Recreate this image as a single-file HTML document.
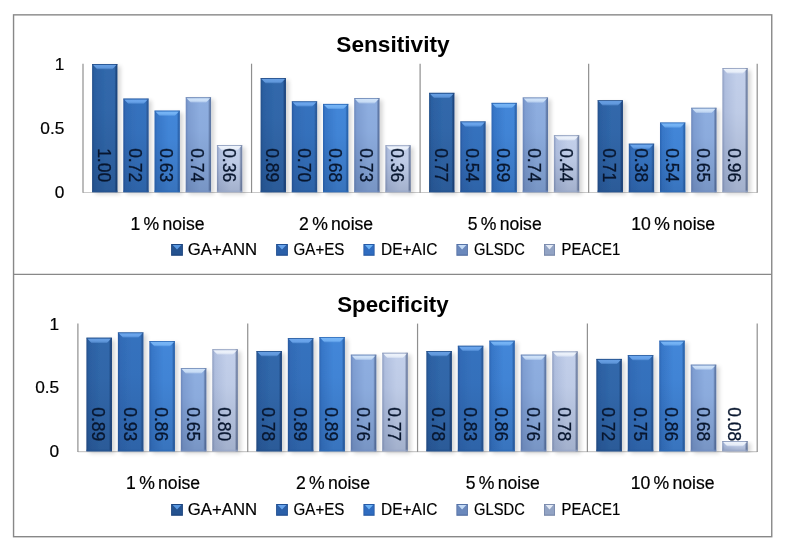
<!DOCTYPE html>
<html lang="en"><head><meta charset="utf-8"><title>Sensitivity and Specificity</title>
<style>html,body{margin:0;padding:0;background:#fff}body{width:785px;height:548px;overflow:hidden}svg{display:block}text{font-family:'Liberation Sans', sans-serif}</style>
</head><body>
<svg width="785" height="548" viewBox="0 0 785 548">
<defs>
<linearGradient id="g0" x1="0" y1="0" x2="1" y2="0"><stop offset="0" stop-color="#244f8a"/><stop offset="0.1" stop-color="#2c60a2"/><stop offset="0.55" stop-color="#3068ab"/><stop offset="0.88" stop-color="#3068ab"/><stop offset="0.95" stop-color="#1f4780"/><stop offset="1" stop-color="#1f4780"/></linearGradient>
<linearGradient id="g1" x1="0" y1="0" x2="1" y2="0"><stop offset="0" stop-color="#2858a0"/><stop offset="0.1" stop-color="#316bb6"/><stop offset="0.55" stop-color="#3672be"/><stop offset="0.88" stop-color="#3672be"/><stop offset="0.95" stop-color="#2a5a9a"/><stop offset="1" stop-color="#2a5a9a"/></linearGradient>
<linearGradient id="g2" x1="0" y1="0" x2="1" y2="0"><stop offset="0" stop-color="#2d66b4"/><stop offset="0.1" stop-color="#3777c8"/><stop offset="0.55" stop-color="#4286d8"/><stop offset="0.88" stop-color="#4286d8"/><stop offset="0.95" stop-color="#2c66b0"/><stop offset="1" stop-color="#2c66b0"/></linearGradient>
<linearGradient id="g3" x1="0" y1="0" x2="1" y2="0"><stop offset="0" stop-color="#6d88bc"/><stop offset="0.1" stop-color="#7f9ed2"/><stop offset="0.55" stop-color="#8eaee0"/><stop offset="0.88" stop-color="#8eaee0"/><stop offset="0.95" stop-color="#607aa8"/><stop offset="1" stop-color="#607aa8"/></linearGradient>
<linearGradient id="g4" x1="0" y1="0" x2="1" y2="0"><stop offset="0" stop-color="#8c9cc0"/><stop offset="0.1" stop-color="#b0bfdf"/><stop offset="0.55" stop-color="#c2cfea"/><stop offset="0.88" stop-color="#c2cfea"/><stop offset="0.95" stop-color="#7888aa"/><stop offset="1" stop-color="#7888aa"/></linearGradient>
<linearGradient id="b0" x1="0" y1="0" x2="0" y2="1"><stop offset="0" stop-color="#6aa2e6" stop-opacity="0.95"/><stop offset="0.6" stop-color="#6aa2e6" stop-opacity="0.85"/><stop offset="1" stop-color="#6aa2e6" stop-opacity="0.35"/></linearGradient>
<linearGradient id="b1" x1="0" y1="0" x2="0" y2="1"><stop offset="0" stop-color="#70aaf0" stop-opacity="0.95"/><stop offset="0.6" stop-color="#70aaf0" stop-opacity="0.85"/><stop offset="1" stop-color="#70aaf0" stop-opacity="0.35"/></linearGradient>
<linearGradient id="b2" x1="0" y1="0" x2="0" y2="1"><stop offset="0" stop-color="#7ab8f8" stop-opacity="0.95"/><stop offset="0.6" stop-color="#7ab8f8" stop-opacity="0.85"/><stop offset="1" stop-color="#7ab8f8" stop-opacity="0.35"/></linearGradient>
<linearGradient id="b3" x1="0" y1="0" x2="0" y2="1"><stop offset="0" stop-color="#d4e6fa" stop-opacity="0.95"/><stop offset="0.6" stop-color="#d4e6fa" stop-opacity="0.85"/><stop offset="1" stop-color="#d4e6fa" stop-opacity="0.35"/></linearGradient>
<linearGradient id="b4" x1="0" y1="0" x2="0" y2="1"><stop offset="0" stop-color="#f0f5fc" stop-opacity="0.95"/><stop offset="0.6" stop-color="#f0f5fc" stop-opacity="0.85"/><stop offset="1" stop-color="#f0f5fc" stop-opacity="0.35"/></linearGradient>
<linearGradient id="vg" x1="0" y1="0" x2="0" y2="1"><stop offset="0" stop-color="#0a1a3a" stop-opacity="0"/><stop offset="0.35" stop-color="#0a1a3a" stop-opacity="0.02"/><stop offset="1" stop-color="#0a1a3a" stop-opacity="0.17"/></linearGradient>
<filter id="sh" x="-30%" y="-10%" width="170%" height="125%"><feGaussianBlur in="SourceAlpha" stdDeviation="1.9"/><feOffset dx="2.5" dy="1.5"/><feComponentTransfer><feFuncA type="linear" slope="0.17"/></feComponentTransfer><feMerge><feMergeNode/><feMergeNode in="SourceGraphic"/></feMerge></filter>
</defs>
<rect width="785" height="548" fill="#fff"/>
<text x="336.3" y="51.7" font-size="22.8" font-weight="bold" fill="#000" textLength="113.30000000000001" lengthAdjust="spacingAndGlyphs">Sensitivity</text>
<text x="64.3" y="69.6" font-size="17.3" text-anchor="end" fill="#000" stroke="#000" stroke-width="0.2">1</text>
<text x="64.3" y="133.7" font-size="17.3" text-anchor="end" fill="#000" stroke="#000" stroke-width="0.2">0.5</text>
<text x="64.3" y="197.8" font-size="17.3" text-anchor="end" fill="#000" stroke="#000" stroke-width="0.2">0</text>
<line x1="83.0" y1="192.5" x2="757.2" y2="192.5" stroke="#c9c9c9" stroke-width="1.2"/>
<g filter="url(#sh)"><rect x="92.10" y="64.00" width="25.36" height="128.20" fill="url(#g0)"/></g>
<rect x="92.10" y="64.00" width="25.36" height="128.20" fill="url(#vg)"/>
<path d="M93.00 64.80H116.56L112.46 69.20H97.10Z" fill="url(#b0)"/>
<rect x="92.10" y="190.60" width="25.36" height="1.6" fill="#25528e" opacity="0.7"/>
<rect x="92.10" y="64.00" width="25.36" height="0.7" fill="#1f4780" opacity="0.8"/>
<text transform="translate(97.88 182.20) rotate(90)" font-size="17.5" text-anchor="end" fill="#08162e" stroke="#08162e" stroke-width="0.3">1.00</text>
<g filter="url(#sh)"><rect x="123.30" y="98.60" width="25.36" height="93.60" fill="url(#g1)"/></g>
<rect x="123.30" y="98.60" width="25.36" height="93.60" fill="url(#vg)"/>
<path d="M124.20 99.40H147.77L143.67 103.80H128.30Z" fill="url(#b1)"/>
<rect x="123.30" y="190.60" width="25.36" height="1.6" fill="#2a5ca0" opacity="0.7"/>
<rect x="123.30" y="98.60" width="25.36" height="0.7" fill="#2a5a9a" opacity="0.8"/>
<text transform="translate(129.08 182.20) rotate(90)" font-size="17.5" text-anchor="end" fill="#08162e" stroke="#08162e" stroke-width="0.3">0.72</text>
<g filter="url(#sh)"><rect x="154.51" y="110.63" width="25.36" height="81.57" fill="url(#g2)"/></g>
<rect x="154.51" y="110.63" width="25.36" height="81.57" fill="url(#vg)"/>
<path d="M155.41 111.43H178.97L174.87 115.83H159.51Z" fill="url(#b2)"/>
<rect x="154.51" y="190.60" width="25.36" height="1.6" fill="#2f6cb8" opacity="0.7"/>
<rect x="154.51" y="110.63" width="25.36" height="0.7" fill="#2c66b0" opacity="0.8"/>
<text transform="translate(160.29 182.20) rotate(90)" font-size="17.5" text-anchor="end" fill="#08162e" stroke="#08162e" stroke-width="0.3">0.63</text>
<g filter="url(#sh)"><rect x="185.71" y="97.33" width="25.36" height="94.87" fill="url(#g3)"/></g>
<rect x="185.71" y="97.33" width="25.36" height="94.87" fill="url(#vg)"/>
<path d="M186.61 98.13H210.17L206.07 102.53H190.71Z" fill="url(#b3)"/>
<rect x="185.71" y="190.60" width="25.36" height="1.6" fill="#7590c2" opacity="0.7"/>
<rect x="185.71" y="97.33" width="25.36" height="0.7" fill="#607aa8" opacity="0.8"/>
<text transform="translate(191.49 182.20) rotate(90)" font-size="17.5" text-anchor="end" fill="#08162e" stroke="#08162e" stroke-width="0.3">0.74</text>
<g filter="url(#sh)"><rect x="216.91" y="145.25" width="25.36" height="46.95" fill="url(#g4)"/></g>
<rect x="216.91" y="145.25" width="25.36" height="46.95" fill="url(#vg)"/>
<path d="M217.81 146.05H241.37L237.27 150.45H221.91Z" fill="url(#b4)"/>
<rect x="216.91" y="190.60" width="25.36" height="1.6" fill="#98a8c8" opacity="0.7"/>
<rect x="216.91" y="145.25" width="25.36" height="0.7" fill="#7888aa" opacity="0.8"/>
<text transform="translate(222.69 182.20) rotate(90)" font-size="17.5" text-anchor="end" fill="#08162e" stroke="#08162e" stroke-width="0.3">0.36</text>
<g filter="url(#sh)"><rect x="260.60" y="78.10" width="25.36" height="114.10" fill="url(#g0)"/></g>
<rect x="260.60" y="78.10" width="25.36" height="114.10" fill="url(#vg)"/>
<path d="M261.50 78.90H285.06L280.96 83.30H265.60Z" fill="url(#b0)"/>
<rect x="260.60" y="190.60" width="25.36" height="1.6" fill="#25528e" opacity="0.7"/>
<rect x="260.60" y="78.10" width="25.36" height="0.7" fill="#1f4780" opacity="0.8"/>
<text transform="translate(266.38 182.20) rotate(90)" font-size="17.5" text-anchor="end" fill="#08162e" stroke="#08162e" stroke-width="0.3">0.89</text>
<g filter="url(#sh)"><rect x="291.80" y="101.36" width="25.36" height="90.84" fill="url(#g1)"/></g>
<rect x="291.80" y="101.36" width="25.36" height="90.84" fill="url(#vg)"/>
<path d="M292.70 102.16H316.26L312.16 106.56H296.80Z" fill="url(#b1)"/>
<rect x="291.80" y="190.60" width="25.36" height="1.6" fill="#2a5ca0" opacity="0.7"/>
<rect x="291.80" y="101.36" width="25.36" height="0.7" fill="#2a5a9a" opacity="0.8"/>
<text transform="translate(297.58 182.20) rotate(90)" font-size="17.5" text-anchor="end" fill="#08162e" stroke="#08162e" stroke-width="0.3">0.70</text>
<g filter="url(#sh)"><rect x="323.00" y="103.92" width="25.36" height="88.28" fill="url(#g2)"/></g>
<rect x="323.00" y="103.92" width="25.36" height="88.28" fill="url(#vg)"/>
<path d="M323.90 104.72H347.46L343.36 109.12H328.00Z" fill="url(#b2)"/>
<rect x="323.00" y="190.60" width="25.36" height="1.6" fill="#2f6cb8" opacity="0.7"/>
<rect x="323.00" y="103.92" width="25.36" height="0.7" fill="#2c66b0" opacity="0.8"/>
<text transform="translate(328.78 182.20) rotate(90)" font-size="17.5" text-anchor="end" fill="#08162e" stroke="#08162e" stroke-width="0.3">0.68</text>
<g filter="url(#sh)"><rect x="354.20" y="98.21" width="25.36" height="93.99" fill="url(#g3)"/></g>
<rect x="354.20" y="98.21" width="25.36" height="93.99" fill="url(#vg)"/>
<path d="M355.10 99.01H378.67L374.57 103.41H359.20Z" fill="url(#b3)"/>
<rect x="354.20" y="190.60" width="25.36" height="1.6" fill="#7590c2" opacity="0.7"/>
<rect x="354.20" y="98.21" width="25.36" height="0.7" fill="#607aa8" opacity="0.8"/>
<text transform="translate(359.99 182.20) rotate(90)" font-size="17.5" text-anchor="end" fill="#08162e" stroke="#08162e" stroke-width="0.3">0.73</text>
<g filter="url(#sh)"><rect x="385.41" y="145.40" width="25.36" height="46.80" fill="url(#g4)"/></g>
<rect x="385.41" y="145.40" width="25.36" height="46.80" fill="url(#vg)"/>
<path d="M386.31 146.20H409.87L405.77 150.60H390.41Z" fill="url(#b4)"/>
<rect x="385.41" y="190.60" width="25.36" height="1.6" fill="#98a8c8" opacity="0.7"/>
<rect x="385.41" y="145.40" width="25.36" height="0.7" fill="#7888aa" opacity="0.8"/>
<text transform="translate(391.19 182.20) rotate(90)" font-size="17.5" text-anchor="end" fill="#08162e" stroke="#08162e" stroke-width="0.3">0.36</text>
<g filter="url(#sh)"><rect x="429.09" y="92.84" width="25.36" height="99.36" fill="url(#g0)"/></g>
<rect x="429.09" y="92.84" width="25.36" height="99.36" fill="url(#vg)"/>
<path d="M429.99 93.64H453.55L449.45 98.04H434.09Z" fill="url(#b0)"/>
<rect x="429.09" y="190.60" width="25.36" height="1.6" fill="#25528e" opacity="0.7"/>
<rect x="429.09" y="92.84" width="25.36" height="0.7" fill="#1f4780" opacity="0.8"/>
<text transform="translate(434.87 182.20) rotate(90)" font-size="17.5" text-anchor="end" fill="#08162e" stroke="#08162e" stroke-width="0.3">0.77</text>
<g filter="url(#sh)"><rect x="460.30" y="121.47" width="25.36" height="70.73" fill="url(#g1)"/></g>
<rect x="460.30" y="121.47" width="25.36" height="70.73" fill="url(#vg)"/>
<path d="M461.20 122.27H484.76L480.66 126.67H465.30Z" fill="url(#b1)"/>
<rect x="460.30" y="190.60" width="25.36" height="1.6" fill="#2a5ca0" opacity="0.7"/>
<rect x="460.30" y="121.47" width="25.36" height="0.7" fill="#2a5a9a" opacity="0.8"/>
<text transform="translate(466.08 182.20) rotate(90)" font-size="17.5" text-anchor="end" fill="#08162e" stroke="#08162e" stroke-width="0.3">0.54</text>
<g filter="url(#sh)"><rect x="491.50" y="102.87" width="25.36" height="89.33" fill="url(#g2)"/></g>
<rect x="491.50" y="102.87" width="25.36" height="89.33" fill="url(#vg)"/>
<path d="M492.40 103.67H515.96L511.86 108.07H496.50Z" fill="url(#b2)"/>
<rect x="491.50" y="190.60" width="25.36" height="1.6" fill="#2f6cb8" opacity="0.7"/>
<rect x="491.50" y="102.87" width="25.36" height="0.7" fill="#2c66b0" opacity="0.8"/>
<text transform="translate(497.28 182.20) rotate(90)" font-size="17.5" text-anchor="end" fill="#08162e" stroke="#08162e" stroke-width="0.3">0.69</text>
<g filter="url(#sh)"><rect x="522.70" y="97.53" width="25.36" height="94.67" fill="url(#g3)"/></g>
<rect x="522.70" y="97.53" width="25.36" height="94.67" fill="url(#vg)"/>
<path d="M523.60 98.33H547.16L543.06 102.73H527.70Z" fill="url(#b3)"/>
<rect x="522.70" y="190.60" width="25.36" height="1.6" fill="#7590c2" opacity="0.7"/>
<rect x="522.70" y="97.53" width="25.36" height="0.7" fill="#607aa8" opacity="0.8"/>
<text transform="translate(528.48 182.20) rotate(90)" font-size="17.5" text-anchor="end" fill="#08162e" stroke="#08162e" stroke-width="0.3">0.74</text>
<g filter="url(#sh)"><rect x="553.90" y="135.36" width="25.36" height="56.84" fill="url(#g4)"/></g>
<rect x="553.90" y="135.36" width="25.36" height="56.84" fill="url(#vg)"/>
<path d="M554.80 136.16H578.37L574.27 140.56H558.90Z" fill="url(#b4)"/>
<rect x="553.90" y="190.60" width="25.36" height="1.6" fill="#98a8c8" opacity="0.7"/>
<rect x="553.90" y="135.36" width="25.36" height="0.7" fill="#7888aa" opacity="0.8"/>
<text transform="translate(559.69 182.20) rotate(90)" font-size="17.5" text-anchor="end" fill="#08162e" stroke="#08162e" stroke-width="0.3">0.44</text>
<g filter="url(#sh)"><rect x="597.59" y="100.31" width="25.36" height="91.89" fill="url(#g0)"/></g>
<rect x="597.59" y="100.31" width="25.36" height="91.89" fill="url(#vg)"/>
<path d="M598.49 101.11H622.05L617.95 105.51H602.59Z" fill="url(#b0)"/>
<rect x="597.59" y="190.60" width="25.36" height="1.6" fill="#25528e" opacity="0.7"/>
<rect x="597.59" y="100.31" width="25.36" height="0.7" fill="#1f4780" opacity="0.8"/>
<text transform="translate(603.37 182.20) rotate(90)" font-size="17.5" text-anchor="end" fill="#08162e" stroke="#08162e" stroke-width="0.3">0.71</text>
<g filter="url(#sh)"><rect x="628.79" y="143.68" width="25.36" height="48.52" fill="url(#g1)"/></g>
<rect x="628.79" y="143.68" width="25.36" height="48.52" fill="url(#vg)"/>
<path d="M629.69 144.48H653.25L649.15 148.88H633.79Z" fill="url(#b1)"/>
<rect x="628.79" y="190.60" width="25.36" height="1.6" fill="#2a5ca0" opacity="0.7"/>
<rect x="628.79" y="143.68" width="25.36" height="0.7" fill="#2a5a9a" opacity="0.8"/>
<text transform="translate(634.57 182.20) rotate(90)" font-size="17.5" text-anchor="end" fill="#08162e" stroke="#08162e" stroke-width="0.3">0.38</text>
<g filter="url(#sh)"><rect x="659.99" y="122.54" width="25.36" height="69.66" fill="url(#g2)"/></g>
<rect x="659.99" y="122.54" width="25.36" height="69.66" fill="url(#vg)"/>
<path d="M660.89 123.34H684.46L680.36 127.74H664.99Z" fill="url(#b2)"/>
<rect x="659.99" y="190.60" width="25.36" height="1.6" fill="#2f6cb8" opacity="0.7"/>
<rect x="659.99" y="122.54" width="25.36" height="0.7" fill="#2c66b0" opacity="0.8"/>
<text transform="translate(665.78 182.20) rotate(90)" font-size="17.5" text-anchor="end" fill="#08162e" stroke="#08162e" stroke-width="0.3">0.54</text>
<g filter="url(#sh)"><rect x="691.20" y="107.79" width="25.36" height="84.41" fill="url(#g3)"/></g>
<rect x="691.20" y="107.79" width="25.36" height="84.41" fill="url(#vg)"/>
<path d="M692.10 108.59H715.66L711.56 112.99H696.20Z" fill="url(#b3)"/>
<rect x="691.20" y="190.60" width="25.36" height="1.6" fill="#7590c2" opacity="0.7"/>
<rect x="691.20" y="107.79" width="25.36" height="0.7" fill="#607aa8" opacity="0.8"/>
<text transform="translate(696.98 182.20) rotate(90)" font-size="17.5" text-anchor="end" fill="#08162e" stroke="#08162e" stroke-width="0.3">0.65</text>
<g filter="url(#sh)"><rect x="722.40" y="68.26" width="25.36" height="123.94" fill="url(#g4)"/></g>
<rect x="722.40" y="68.26" width="25.36" height="123.94" fill="url(#vg)"/>
<path d="M723.30 69.06H746.86L742.76 73.46H727.40Z" fill="url(#b4)"/>
<rect x="722.40" y="190.60" width="25.36" height="1.6" fill="#98a8c8" opacity="0.7"/>
<rect x="722.40" y="68.26" width="25.36" height="0.7" fill="#7888aa" opacity="0.8"/>
<text transform="translate(728.18 182.20) rotate(90)" font-size="17.5" text-anchor="end" fill="#08162e" stroke="#08162e" stroke-width="0.3">0.96</text>
<line x1="83.00" y1="63.7" x2="83.00" y2="192.8" stroke="#8f8f8f" stroke-width="1.2"/>
<line x1="251.55" y1="63.7" x2="251.55" y2="192.8" stroke="#8f8f8f" stroke-width="1.2"/>
<line x1="420.10" y1="63.7" x2="420.10" y2="192.8" stroke="#8f8f8f" stroke-width="1.2"/>
<line x1="588.65" y1="63.7" x2="588.65" y2="192.8" stroke="#8f8f8f" stroke-width="1.2"/>
<line x1="757.20" y1="63.7" x2="757.20" y2="192.8" stroke="#8f8f8f" stroke-width="1.2"/>
<text x="167.58" y="229.6" font-size="17.6" word-spacing="-1.6" text-anchor="middle" fill="#000" stroke="#000" stroke-width="0.2">1 % noise</text>
<text x="336.13" y="229.6" font-size="17.6" word-spacing="-1.6" text-anchor="middle" fill="#000" stroke="#000" stroke-width="0.2">2 % noise</text>
<text x="504.68" y="229.6" font-size="17.6" word-spacing="-1.6" text-anchor="middle" fill="#000" stroke="#000" stroke-width="0.2">5 % noise</text>
<text x="673.23" y="229.6" font-size="17.6" word-spacing="-1.6" text-anchor="middle" fill="#000" stroke="#000" stroke-width="0.2">10 % noise</text>
<rect x="171.1" y="244.0" width="11.8" height="11.8" fill="#1b437c"/>
<rect x="171.9" y="244.8" width="10.2" height="9.8" fill="#24528f"/>
<path d="M172.7 245.1H181.3L177.0 249.6Z" fill="#5e9ee8" opacity="0.92"/>
<text x="187.8" y="255.4" font-size="17" fill="#000" stroke="#000" stroke-width="0.2" textLength="69.3" lengthAdjust="spacingAndGlyphs">GA+ANN</text>
<rect x="276.1" y="244.0" width="11.8" height="11.8" fill="#204d90"/>
<rect x="276.9" y="244.8" width="10.2" height="9.8" fill="#2a5fa8"/>
<path d="M277.7 245.1H286.3L282.0 249.6Z" fill="#6eaaf2" opacity="0.92"/>
<text x="293.6" y="255.4" font-size="17" fill="#000" stroke="#000" stroke-width="0.2" textLength="50.8" lengthAdjust="spacingAndGlyphs">GA+ES</text>
<rect x="363.4" y="244.0" width="11.2" height="11.8" fill="#2558a2"/>
<rect x="364.2" y="244.8" width="9.6" height="9.8" fill="#2f6cc0"/>
<path d="M365.0 245.1H373.0L369.0 249.6Z" fill="#72b8fa" opacity="0.92"/>
<text x="381.0" y="255.4" font-size="17" fill="#000" stroke="#000" stroke-width="0.2" textLength="56.4" lengthAdjust="spacingAndGlyphs">DE+AIC</text>
<rect x="456.4" y="244.0" width="11.5" height="11.8" fill="#526ea2"/>
<rect x="457.2" y="244.8" width="9.9" height="9.8" fill="#6a88bc"/>
<path d="M458.0 245.1H466.3L462.1 249.6Z" fill="#cce2fb" opacity="0.92"/>
<text x="474.1" y="255.4" font-size="17" fill="#000" stroke="#000" stroke-width="0.2" textLength="50.7" lengthAdjust="spacingAndGlyphs">GLSDC</text>
<rect x="544.0" y="244.0" width="11.0" height="11.8" fill="#7888aa"/>
<rect x="544.8" y="244.8" width="9.4" height="9.8" fill="#92a3c4"/>
<path d="M545.6 245.1H553.4L549.5 249.6Z" fill="#ecf1fa" opacity="0.92"/>
<text x="561.5" y="255.4" font-size="17" fill="#000" stroke="#000" stroke-width="0.2" textLength="58.7" lengthAdjust="spacingAndGlyphs">PEACE1</text>
<text x="337.2" y="311.8" font-size="22.8" font-weight="bold" fill="#000" textLength="111.5" lengthAdjust="spacingAndGlyphs">Specificity</text>
<text x="59.2" y="329.5" font-size="17.3" text-anchor="end" fill="#000" stroke="#000" stroke-width="0.2">1</text>
<text x="59.2" y="393.2" font-size="17.3" text-anchor="end" fill="#000" stroke="#000" stroke-width="0.2">0.5</text>
<text x="59.2" y="456.9" font-size="17.3" text-anchor="end" fill="#000" stroke="#000" stroke-width="0.2">0</text>
<line x1="77.9" y1="451.6" x2="757.2" y2="451.6" stroke="#c9c9c9" stroke-width="1.2"/>
<g filter="url(#sh)"><rect x="86.40" y="337.71" width="25.58" height="113.59" fill="url(#g0)"/></g>
<rect x="86.40" y="337.71" width="25.58" height="113.59" fill="url(#vg)"/>
<path d="M87.30 338.51H111.08L106.98 342.91H91.40Z" fill="url(#b0)"/>
<rect x="86.40" y="449.70" width="25.58" height="1.6" fill="#25528e" opacity="0.7"/>
<rect x="86.40" y="337.71" width="25.58" height="0.7" fill="#1f4780" opacity="0.8"/>
<text transform="translate(92.29 441.30) rotate(90)" font-size="17.5" text-anchor="end" fill="#08162e" stroke="#08162e" stroke-width="0.3">0.89</text>
<g filter="url(#sh)"><rect x="117.88" y="332.42" width="25.58" height="118.88" fill="url(#g1)"/></g>
<rect x="117.88" y="332.42" width="25.58" height="118.88" fill="url(#vg)"/>
<path d="M118.78 333.22H142.56L138.46 337.62H122.88Z" fill="url(#b1)"/>
<rect x="117.88" y="449.70" width="25.58" height="1.6" fill="#2a5ca0" opacity="0.7"/>
<rect x="117.88" y="332.42" width="25.58" height="0.7" fill="#2a5a9a" opacity="0.8"/>
<text transform="translate(123.77 441.30) rotate(90)" font-size="17.5" text-anchor="end" fill="#08162e" stroke="#08162e" stroke-width="0.3">0.93</text>
<g filter="url(#sh)"><rect x="149.35" y="341.09" width="25.58" height="110.21" fill="url(#g2)"/></g>
<rect x="149.35" y="341.09" width="25.58" height="110.21" fill="url(#vg)"/>
<path d="M150.25 341.89H174.03L169.93 346.29H154.35Z" fill="url(#b2)"/>
<rect x="149.35" y="449.70" width="25.58" height="1.6" fill="#2f6cb8" opacity="0.7"/>
<rect x="149.35" y="341.09" width="25.58" height="0.7" fill="#2c66b0" opacity="0.8"/>
<text transform="translate(155.24 441.30) rotate(90)" font-size="17.5" text-anchor="end" fill="#08162e" stroke="#08162e" stroke-width="0.3">0.86</text>
<g filter="url(#sh)"><rect x="180.83" y="368.29" width="25.58" height="83.01" fill="url(#g3)"/></g>
<rect x="180.83" y="368.29" width="25.58" height="83.01" fill="url(#vg)"/>
<path d="M181.73 369.09H205.51L201.41 373.49H185.83Z" fill="url(#b3)"/>
<rect x="180.83" y="449.70" width="25.58" height="1.6" fill="#7590c2" opacity="0.7"/>
<rect x="180.83" y="368.29" width="25.58" height="0.7" fill="#607aa8" opacity="0.8"/>
<text transform="translate(186.72 441.30) rotate(90)" font-size="17.5" text-anchor="end" fill="#08162e" stroke="#08162e" stroke-width="0.3">0.65</text>
<g filter="url(#sh)"><rect x="212.30" y="349.38" width="25.58" height="101.92" fill="url(#g4)"/></g>
<rect x="212.30" y="349.38" width="25.58" height="101.92" fill="url(#vg)"/>
<path d="M213.20 350.18H236.98L232.88 354.58H217.30Z" fill="url(#b4)"/>
<rect x="212.30" y="449.70" width="25.58" height="1.6" fill="#98a8c8" opacity="0.7"/>
<rect x="212.30" y="349.38" width="25.58" height="0.7" fill="#7888aa" opacity="0.8"/>
<text transform="translate(218.19 441.30) rotate(90)" font-size="17.5" text-anchor="end" fill="#08162e" stroke="#08162e" stroke-width="0.3">0.80</text>
<g filter="url(#sh)"><rect x="256.37" y="351.06" width="25.58" height="100.24" fill="url(#g0)"/></g>
<rect x="256.37" y="351.06" width="25.58" height="100.24" fill="url(#vg)"/>
<path d="M257.27 351.86H281.05L276.95 356.26H261.37Z" fill="url(#b0)"/>
<rect x="256.37" y="449.70" width="25.58" height="1.6" fill="#25528e" opacity="0.7"/>
<rect x="256.37" y="351.06" width="25.58" height="0.7" fill="#1f4780" opacity="0.8"/>
<text transform="translate(262.26 441.30) rotate(90)" font-size="17.5" text-anchor="end" fill="#08162e" stroke="#08162e" stroke-width="0.3">0.78</text>
<g filter="url(#sh)"><rect x="287.84" y="338.11" width="25.58" height="113.19" fill="url(#g1)"/></g>
<rect x="287.84" y="338.11" width="25.58" height="113.19" fill="url(#vg)"/>
<path d="M288.74 338.91H312.52L308.42 343.31H292.84Z" fill="url(#b1)"/>
<rect x="287.84" y="449.70" width="25.58" height="1.6" fill="#2a5ca0" opacity="0.7"/>
<rect x="287.84" y="338.11" width="25.58" height="0.7" fill="#2a5a9a" opacity="0.8"/>
<text transform="translate(293.73 441.30) rotate(90)" font-size="17.5" text-anchor="end" fill="#08162e" stroke="#08162e" stroke-width="0.3">0.89</text>
<g filter="url(#sh)"><rect x="319.32" y="337.04" width="25.58" height="114.26" fill="url(#g2)"/></g>
<rect x="319.32" y="337.04" width="25.58" height="114.26" fill="url(#vg)"/>
<path d="M320.22 337.84H344.00L339.90 342.24H324.32Z" fill="url(#b2)"/>
<rect x="319.32" y="449.70" width="25.58" height="1.6" fill="#2f6cb8" opacity="0.7"/>
<rect x="319.32" y="337.04" width="25.58" height="0.7" fill="#2c66b0" opacity="0.8"/>
<text transform="translate(325.21 441.30) rotate(90)" font-size="17.5" text-anchor="end" fill="#08162e" stroke="#08162e" stroke-width="0.3">0.89</text>
<g filter="url(#sh)"><rect x="350.79" y="354.68" width="25.58" height="96.62" fill="url(#g3)"/></g>
<rect x="350.79" y="354.68" width="25.58" height="96.62" fill="url(#vg)"/>
<path d="M351.69 355.48H375.47L371.37 359.88H355.79Z" fill="url(#b3)"/>
<rect x="350.79" y="449.70" width="25.58" height="1.6" fill="#7590c2" opacity="0.7"/>
<rect x="350.79" y="354.68" width="25.58" height="0.7" fill="#607aa8" opacity="0.8"/>
<text transform="translate(356.68 441.30) rotate(90)" font-size="17.5" text-anchor="end" fill="#08162e" stroke="#08162e" stroke-width="0.3">0.76</text>
<g filter="url(#sh)"><rect x="382.27" y="352.77" width="25.58" height="98.53" fill="url(#g4)"/></g>
<rect x="382.27" y="352.77" width="25.58" height="98.53" fill="url(#vg)"/>
<path d="M383.17 353.57H406.95L402.85 357.97H387.27Z" fill="url(#b4)"/>
<rect x="382.27" y="449.70" width="25.58" height="1.6" fill="#98a8c8" opacity="0.7"/>
<rect x="382.27" y="352.77" width="25.58" height="0.7" fill="#7888aa" opacity="0.8"/>
<text transform="translate(388.16 441.30) rotate(90)" font-size="17.5" text-anchor="end" fill="#08162e" stroke="#08162e" stroke-width="0.3">0.77</text>
<g filter="url(#sh)"><rect x="426.33" y="351.06" width="25.58" height="100.24" fill="url(#g0)"/></g>
<rect x="426.33" y="351.06" width="25.58" height="100.24" fill="url(#vg)"/>
<path d="M427.23 351.86H451.01L446.91 356.26H431.33Z" fill="url(#b0)"/>
<rect x="426.33" y="449.70" width="25.58" height="1.6" fill="#25528e" opacity="0.7"/>
<rect x="426.33" y="351.06" width="25.58" height="0.7" fill="#1f4780" opacity="0.8"/>
<text transform="translate(432.22 441.30) rotate(90)" font-size="17.5" text-anchor="end" fill="#08162e" stroke="#08162e" stroke-width="0.3">0.78</text>
<g filter="url(#sh)"><rect x="457.81" y="345.76" width="25.58" height="105.54" fill="url(#g1)"/></g>
<rect x="457.81" y="345.76" width="25.58" height="105.54" fill="url(#vg)"/>
<path d="M458.71 346.56H482.49L478.39 350.96H462.81Z" fill="url(#b1)"/>
<rect x="457.81" y="449.70" width="25.58" height="1.6" fill="#2a5ca0" opacity="0.7"/>
<rect x="457.81" y="345.76" width="25.58" height="0.7" fill="#2a5a9a" opacity="0.8"/>
<text transform="translate(463.70 441.30) rotate(90)" font-size="17.5" text-anchor="end" fill="#08162e" stroke="#08162e" stroke-width="0.3">0.83</text>
<g filter="url(#sh)"><rect x="489.28" y="340.66" width="25.58" height="110.64" fill="url(#g2)"/></g>
<rect x="489.28" y="340.66" width="25.58" height="110.64" fill="url(#vg)"/>
<path d="M490.18 341.46H513.96L509.86 345.86H494.28Z" fill="url(#b2)"/>
<rect x="489.28" y="449.70" width="25.58" height="1.6" fill="#2f6cb8" opacity="0.7"/>
<rect x="489.28" y="340.66" width="25.58" height="0.7" fill="#2c66b0" opacity="0.8"/>
<text transform="translate(495.17 441.30) rotate(90)" font-size="17.5" text-anchor="end" fill="#08162e" stroke="#08162e" stroke-width="0.3">0.86</text>
<g filter="url(#sh)"><rect x="520.76" y="354.68" width="25.58" height="96.62" fill="url(#g3)"/></g>
<rect x="520.76" y="354.68" width="25.58" height="96.62" fill="url(#vg)"/>
<path d="M521.66 355.48H545.44L541.34 359.88H525.76Z" fill="url(#b3)"/>
<rect x="520.76" y="449.70" width="25.58" height="1.6" fill="#7590c2" opacity="0.7"/>
<rect x="520.76" y="354.68" width="25.58" height="0.7" fill="#607aa8" opacity="0.8"/>
<text transform="translate(526.65 441.30) rotate(90)" font-size="17.5" text-anchor="end" fill="#08162e" stroke="#08162e" stroke-width="0.3">0.76</text>
<g filter="url(#sh)"><rect x="552.23" y="351.50" width="25.58" height="99.80" fill="url(#g4)"/></g>
<rect x="552.23" y="351.50" width="25.58" height="99.80" fill="url(#vg)"/>
<path d="M553.13 352.30H576.91L572.81 356.70H557.23Z" fill="url(#b4)"/>
<rect x="552.23" y="449.70" width="25.58" height="1.6" fill="#98a8c8" opacity="0.7"/>
<rect x="552.23" y="351.50" width="25.58" height="0.7" fill="#7888aa" opacity="0.8"/>
<text transform="translate(558.12 441.30) rotate(90)" font-size="17.5" text-anchor="end" fill="#08162e" stroke="#08162e" stroke-width="0.3">0.78</text>
<g filter="url(#sh)"><rect x="596.30" y="358.92" width="25.58" height="92.38" fill="url(#g0)"/></g>
<rect x="596.30" y="358.92" width="25.58" height="92.38" fill="url(#vg)"/>
<path d="M597.20 359.72H620.98L616.88 364.12H601.30Z" fill="url(#b0)"/>
<rect x="596.30" y="449.70" width="25.58" height="1.6" fill="#25528e" opacity="0.7"/>
<rect x="596.30" y="358.92" width="25.58" height="0.7" fill="#1f4780" opacity="0.8"/>
<text transform="translate(602.19 441.30) rotate(90)" font-size="17.5" text-anchor="end" fill="#08162e" stroke="#08162e" stroke-width="0.3">0.72</text>
<g filter="url(#sh)"><rect x="627.77" y="355.10" width="25.58" height="96.20" fill="url(#g1)"/></g>
<rect x="627.77" y="355.10" width="25.58" height="96.20" fill="url(#vg)"/>
<path d="M628.67 355.90H652.45L648.35 360.30H632.77Z" fill="url(#b1)"/>
<rect x="627.77" y="449.70" width="25.58" height="1.6" fill="#2a5ca0" opacity="0.7"/>
<rect x="627.77" y="355.10" width="25.58" height="0.7" fill="#2a5a9a" opacity="0.8"/>
<text transform="translate(633.66 441.30) rotate(90)" font-size="17.5" text-anchor="end" fill="#08162e" stroke="#08162e" stroke-width="0.3">0.75</text>
<g filter="url(#sh)"><rect x="659.25" y="340.66" width="25.58" height="110.64" fill="url(#g2)"/></g>
<rect x="659.25" y="340.66" width="25.58" height="110.64" fill="url(#vg)"/>
<path d="M660.15 341.46H683.93L679.83 345.86H664.25Z" fill="url(#b2)"/>
<rect x="659.25" y="449.70" width="25.58" height="1.6" fill="#2f6cb8" opacity="0.7"/>
<rect x="659.25" y="340.66" width="25.58" height="0.7" fill="#2c66b0" opacity="0.8"/>
<text transform="translate(665.14 441.30) rotate(90)" font-size="17.5" text-anchor="end" fill="#08162e" stroke="#08162e" stroke-width="0.3">0.86</text>
<g filter="url(#sh)"><rect x="690.72" y="364.67" width="25.58" height="86.63" fill="url(#g3)"/></g>
<rect x="690.72" y="364.67" width="25.58" height="86.63" fill="url(#vg)"/>
<path d="M691.62 365.47H715.40L711.30 369.87H695.72Z" fill="url(#b3)"/>
<rect x="690.72" y="449.70" width="25.58" height="1.6" fill="#7590c2" opacity="0.7"/>
<rect x="690.72" y="364.67" width="25.58" height="0.7" fill="#607aa8" opacity="0.8"/>
<text transform="translate(696.61 441.30) rotate(90)" font-size="17.5" text-anchor="end" fill="#08162e" stroke="#08162e" stroke-width="0.3">0.68</text>
<g filter="url(#sh)"><rect x="722.20" y="441.11" width="25.58" height="10.19" fill="url(#g4)"/></g>
<rect x="722.20" y="441.11" width="25.58" height="10.19" fill="url(#vg)"/>
<path d="M723.10 441.91H746.88L742.78 446.31H727.20Z" fill="url(#b4)"/>
<rect x="722.20" y="449.70" width="25.58" height="1.6" fill="#98a8c8" opacity="0.7"/>
<rect x="722.20" y="441.11" width="25.58" height="0.7" fill="#7888aa" opacity="0.8"/>
<text transform="translate(728.09 441.30) rotate(90)" font-size="17.5" text-anchor="end" fill="#08162e" stroke="#08162e" stroke-width="0.3">0.08</text>
<line x1="77.90" y1="323.6" x2="77.90" y2="451.9" stroke="#8f8f8f" stroke-width="1.2"/>
<line x1="247.73" y1="323.6" x2="247.73" y2="451.9" stroke="#8f8f8f" stroke-width="1.2"/>
<line x1="417.55" y1="323.6" x2="417.55" y2="451.9" stroke="#8f8f8f" stroke-width="1.2"/>
<line x1="587.38" y1="323.6" x2="587.38" y2="451.9" stroke="#8f8f8f" stroke-width="1.2"/>
<line x1="757.20" y1="323.6" x2="757.20" y2="451.9" stroke="#8f8f8f" stroke-width="1.2"/>
<text x="163.11" y="488.9" font-size="17.6" word-spacing="-1.6" text-anchor="middle" fill="#000" stroke="#000" stroke-width="0.2">1 % noise</text>
<text x="332.94" y="488.9" font-size="17.6" word-spacing="-1.6" text-anchor="middle" fill="#000" stroke="#000" stroke-width="0.2">2 % noise</text>
<text x="502.76" y="488.9" font-size="17.6" word-spacing="-1.6" text-anchor="middle" fill="#000" stroke="#000" stroke-width="0.2">5 % noise</text>
<text x="672.59" y="488.9" font-size="17.6" word-spacing="-1.6" text-anchor="middle" fill="#000" stroke="#000" stroke-width="0.2">10 % noise</text>
<rect x="171.1" y="504.0" width="11.8" height="11.8" fill="#1b437c"/>
<rect x="171.9" y="504.8" width="10.2" height="9.8" fill="#24528f"/>
<path d="M172.7 505.1H181.3L177.0 509.6Z" fill="#5e9ee8" opacity="0.92"/>
<text x="187.8" y="515.4" font-size="17" fill="#000" stroke="#000" stroke-width="0.2" textLength="69.3" lengthAdjust="spacingAndGlyphs">GA+ANN</text>
<rect x="276.1" y="504.0" width="11.8" height="11.8" fill="#204d90"/>
<rect x="276.9" y="504.8" width="10.2" height="9.8" fill="#2a5fa8"/>
<path d="M277.7 505.1H286.3L282.0 509.6Z" fill="#6eaaf2" opacity="0.92"/>
<text x="293.6" y="515.4" font-size="17" fill="#000" stroke="#000" stroke-width="0.2" textLength="50.8" lengthAdjust="spacingAndGlyphs">GA+ES</text>
<rect x="363.4" y="504.0" width="11.2" height="11.8" fill="#2558a2"/>
<rect x="364.2" y="504.8" width="9.6" height="9.8" fill="#2f6cc0"/>
<path d="M365.0 505.1H373.0L369.0 509.6Z" fill="#72b8fa" opacity="0.92"/>
<text x="381.0" y="515.4" font-size="17" fill="#000" stroke="#000" stroke-width="0.2" textLength="56.4" lengthAdjust="spacingAndGlyphs">DE+AIC</text>
<rect x="456.4" y="504.0" width="11.5" height="11.8" fill="#526ea2"/>
<rect x="457.2" y="504.8" width="9.9" height="9.8" fill="#6a88bc"/>
<path d="M458.0 505.1H466.3L462.1 509.6Z" fill="#cce2fb" opacity="0.92"/>
<text x="474.1" y="515.4" font-size="17" fill="#000" stroke="#000" stroke-width="0.2" textLength="50.7" lengthAdjust="spacingAndGlyphs">GLSDC</text>
<rect x="544.0" y="504.0" width="11.0" height="11.8" fill="#7888aa"/>
<rect x="544.8" y="504.8" width="9.4" height="9.8" fill="#92a3c4"/>
<path d="M545.6 505.1H553.4L549.5 509.6Z" fill="#ecf1fa" opacity="0.92"/>
<text x="561.5" y="515.4" font-size="17" fill="#000" stroke="#000" stroke-width="0.2" textLength="58.7" lengthAdjust="spacingAndGlyphs">PEACE1</text>
<rect x="13.55" y="14.85" width="758.2" height="521.85" fill="none" stroke="#888" stroke-width="1.4"/>
<line x1="13.4" y1="274.4" x2="771.8" y2="274.4" stroke="#888" stroke-width="1.4"/>
</svg></body></html>
